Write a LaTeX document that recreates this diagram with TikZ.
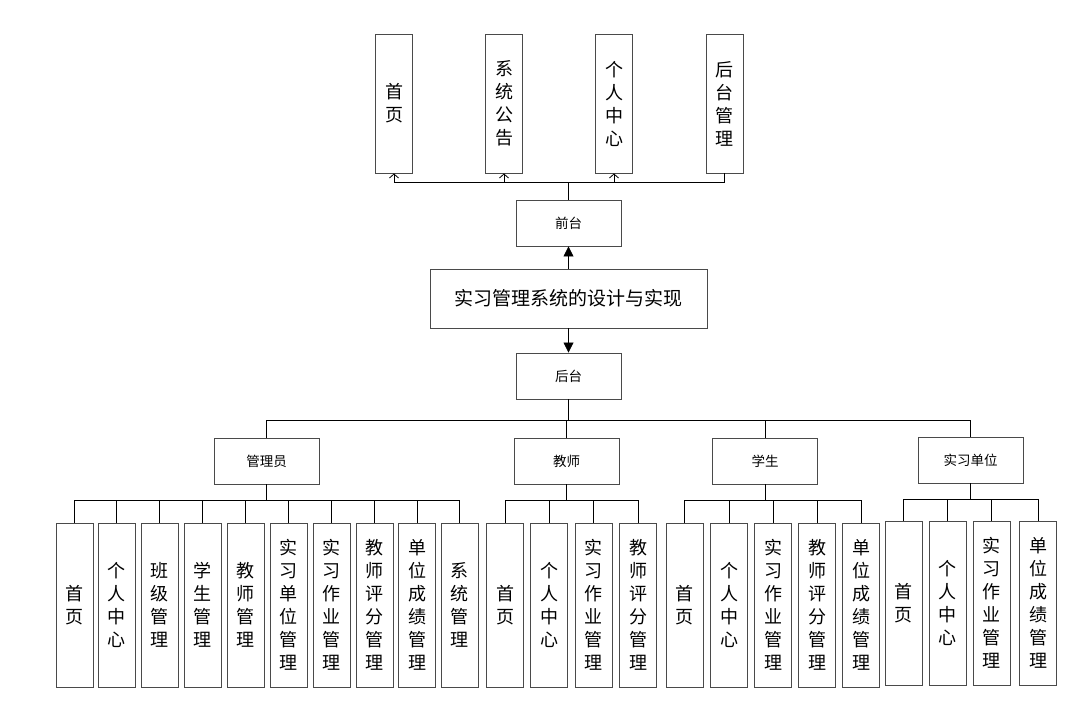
\documentclass[tikz,border=0pt]{standalone}
\usepackage{fontspec}
\setmainfont{Noto Sans CJK SC}
\usetikzlibrary{arrows.meta}
\definecolor{boxgray}{HTML}{4A4A4A}

\begin{document}
\begin{tikzpicture}[x=1pt, y=-1pt,
  line width=0.8pt,
  box/.style={draw=boxgray, line width=0.9pt, fill=white, inner sep=0pt, align=center},
  topbox/.style={box, minimum width=37pt, minimum height=139pt, font=\fontsize{18}{23}\selectfont},
  leaf/.style={box, minimum width=37pt, minimum height=164pt, font=\fontsize{18}{23}\selectfont},
  midbox/.style={box, minimum width=105pt, minimum height=46pt, font=\fontsize{13.5}{15}\selectfont},
  mainbox/.style={box, minimum width=277pt, minimum height=59pt, font=\fontsize{19}{22}\selectfont},
  open/.style={-{Straight Barb[length=4pt,width=9pt]}},
  solid/.style={-{Triangle[length=10pt,width=10pt]}}]

  \useasboundingbox (0,0) rectangle (1072,709);

  % front end
  \node[topbox] (t1) at (394, 103.5) {首\\页};
  \node[topbox] (t2) at (504, 103.5) {系\\统\\公\\告};
  \node[topbox] (t3) at (614, 103.5) {个\\人\\中\\心};
  \node[topbox] (t4) at (724.5, 103.5) {后\\台\\管\\理};

  \node[midbox] (qiantai) at (568.5, 223) {前台};
  \node[mainbox] (main) at (568.5, 298.5) {实习管理系统的设计与实现};
  \node[midbox] (houtai) at (568.5, 376) {后台};

  \draw[solid] (main.north) -- (qiantai.south);
  \draw[solid] (main.south) -- (houtai.north);

  \draw (qiantai.north) -- ++(0,-17) coordinate (qt);
  \draw[open] (qt) -| (t1.south); %% front -> home
  \draw[open] (qt) -| (t2.south);
  \draw[open] (qt) -| (t3.south);
  \draw (qt) -| (t4.south);

  % back end roles
  \node[midbox] (admin) at (266.5, 461) {管理员};
  \node[midbox] (teacher) at (566.5, 461) {教师};
  \node[midbox] (student) at (765, 461) {学生};
  \node[midbox] (unit) at (970.5, 460) {实习单位};

  \draw (houtai.south) -- ++(0,21) coordinate (ht);
  \draw (ht) -| (admin.north);
  \draw (ht) -| (teacher.north);
  \draw (ht) -| (student.north);
  \draw (ht) -| (unit.north);

  % admin
  \node[leaf] (a1) at (74.5, 605) {首\\页};
  \node[leaf] (a2) at (116.5, 605) {个\\人\\中\\心};
  \node[leaf] (a3) at (159.5, 605) {班\\级\\管\\理};
  \node[leaf] (a4) at (202.5, 605) {学\\生\\管\\理};
  \node[leaf] (a5) at (245.5, 605) {教\\师\\管\\理};
  \node[leaf] (a6) at (288.5, 605) {实\\习\\单\\位\\管\\理};
  \node[leaf] (a7) at (331.5, 605) {实\\习\\作\\业\\管\\理};
  \node[leaf] (a8) at (374.5, 605) {教\\师\\评\\分\\管\\理};
  \node[leaf] (a9) at (417, 605) {单\\位\\成\\绩\\管\\理};
  \node[leaf] (a10) at (459.5, 605) {系\\统\\管\\理};

  \draw (admin.south) -- ++(0,16) coordinate (ad);
  \draw (ad) -| (a1.north);
  \draw (ad) -| (a2.north);
  \draw (ad) -| (a3.north);
  \draw (ad) -| (a4.north);
  \draw (ad) -| (a5.north);
  \draw (ad) -| (a6.north);
  \draw (ad) -| (a7.north);
  \draw (ad) -| (a8.north);
  \draw (ad) -| (a9.north);
  \draw (ad) -| (a10.north);

  % teacher
  \node[leaf] (b1) at (505, 605) {首\\页};
  \node[leaf] (b2) at (549, 605) {个\\人\\中\\心};
  \node[leaf] (b3) at (593.5, 605) {实\\习\\作\\业\\管\\理};
  \node[leaf] (b4) at (638, 605) {教\\师\\评\\分\\管\\理};

  \draw (teacher.south) -- ++(0,16) coordinate (te);
  \draw (te) -| (b1.north);
  \draw (te) -| (b2.north);
  \draw (te) -| (b3.north);
  \draw (te) -| (b4.north);

  % student
  \node[leaf] (c1) at (684.5, 605) {首\\页};
  \node[leaf] (c2) at (729, 605) {个\\人\\中\\心};
  \node[leaf] (c3) at (773, 605) {实\\习\\作\\业\\管\\理};
  \node[leaf] (c4) at (817, 605) {教\\师\\评\\分\\管\\理};
  \node[leaf] (c5) at (861, 605) {单\\位\\成\\绩\\管\\理};

  \draw (student.south) -- ++(0,16) coordinate (st);
  \draw (st) -| (c1.north);
  \draw (st) -| (c2.north);
  \draw (st) -| (c3.north);
  \draw (st) -| (c4.north);
  \draw (st) -| (c5.north);

  % unit
  \node[leaf] (d1) at (903.5, 603) {首\\页};
  \node[leaf] (d2) at (947.5, 603) {个\\人\\中\\心};
  \node[leaf] (d3) at (991.5, 603) {实\\习\\作\\业\\管\\理};
  \node[leaf] (d4) at (1038, 603) {单\\位\\成\\绩\\管\\理};

  \draw (unit.south) -- ++(0,16) coordinate (un);
  \draw (un) -| (d1.north);
  \draw (un) -| (d2.north);
  \draw (un) -| (d3.north);
  \draw (un) -| (d4.north);
\end{tikzpicture}
\end{document}
